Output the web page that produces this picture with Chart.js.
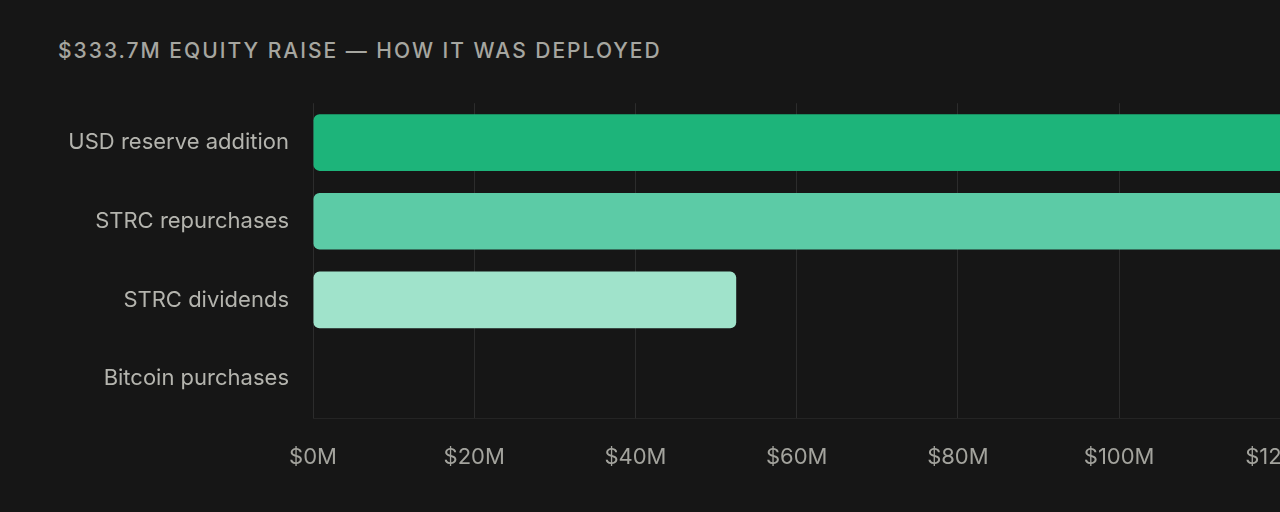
<!DOCTYPE html>
<html>
<head>
<meta charset="utf-8">
<script src="https://cdn.jsdelivr.net/npm/chart.js@4"></script>
<style>
  html, body { margin: 0; background: #161616; overflow: hidden; width: 1280px; height: 512px; }
  h1 { position: absolute; left: 58px; top: 38px; margin: 0; font: 500 21px "Inter", sans-serif;
       letter-spacing: 2px; color: #a6a6a0; }
  #wrap { position: absolute; left: 0; top: 74px; width: 1664px; height: 426px; }
</style>
</head>
<body>
<h1>$333.7M EQUITY RAISE — HOW IT WAS DEPLOYED</h1>
<div id="wrap"><canvas id="c"></canvas></div>
<script>
const categories = ['USD reserve addition', 'STRC repurchases', 'STRC dividends', 'Bitcoin purchases'];
const amounts = [150.0, 131.2, 52.5, 0];
const barColors = ['#1db47a', '#5ccba6', '#a0e3cb', '#d8f3e9'];

new Chart(document.getElementById('c'), {
  type: 'bar',
  data: {
    labels: categories,
    datasets: [{
      data: amounts,
      backgroundColor: barColors,
      borderRadius: 6,
      borderSkipped: false,
      barPercentage: 0.72,
      categoryPercentage: 1
    }]
  },
  options: {
    indexAxis: 'y',
    responsive: true,
    maintainAspectRatio: false,
    animation: false,
    layout: { padding: { top: 10, left: 0, right: 0, bottom: 0 } },
    plugins: { legend: { display: false }, tooltip: { enabled: false } },
    scales: {
      x: {
        min: 0, max: 160,
        ticks: { stepSize: 20, color: '#a3a39d', padding: 26, font: { family: 'Inter', size: 22 },
                 callback: v => '$' + v + 'M' },
        grid: { color: '#2c2c2c', tickLength: 0 },
        border: { color: '#242424' },
        afterFit: s => { s.height = 82; }
      },
      y: {
        ticks: { color: '#b4b4ae', padding: 16, font: { family: 'Inter', size: 22 } },
        grid: { display: false },
        border: { display: false },
        afterFit: s => { s.width = 313; }
      }
    }
  }
});
</script>
</body>
</html>
